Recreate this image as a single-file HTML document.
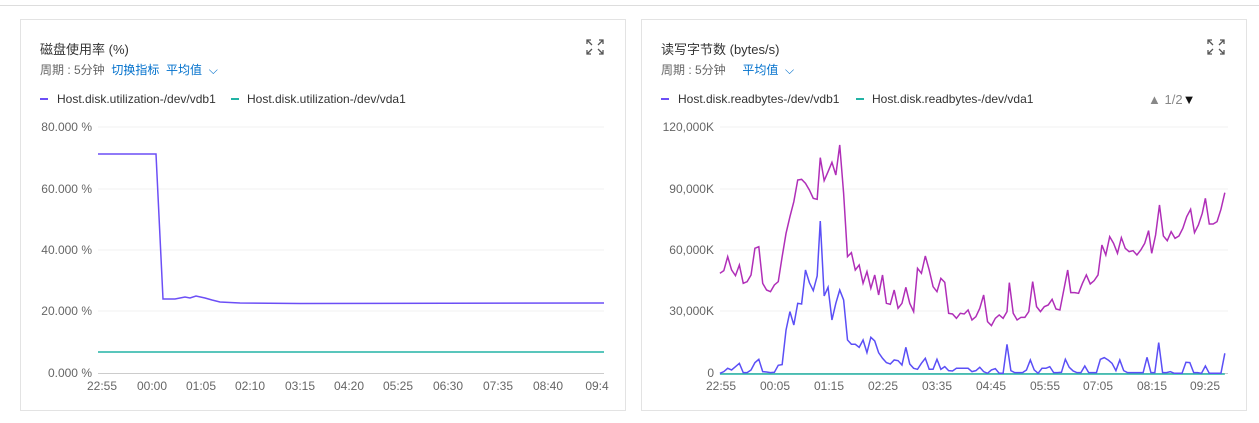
<!DOCTYPE html>
<html><head><meta charset="utf-8"><style>
body{margin:0;width:1259px;height:423px;background:#fff;position:relative;overflow:hidden;font-family:"Liberation Sans","Noto Sans CJK SC",sans-serif}
.card{position:absolute;top:19px;height:390px;border:1px solid #e3e3e3;background:#fff}
.t{position:absolute;font-size:13px;color:#333}
.s{position:absolute;font-size:12px;color:#666}
.b{color:#0070cc}
</style></head><body>
<div style="position:absolute;left:0;top:5px;width:1259px;height:1px;background:#ddd"></div>
<div class="card" style="left:20px;width:604px"></div>
<div class="card" style="left:641px;width:604px"></div>
<div class="t" style="left:40px;top:39px">磁盘使用率 (%)</div>
<div class="s" style="left:40px;top:61px">周期 : 5分钟 &nbsp;<span class="b">切换指标 &nbsp;平均值 &nbsp;⌵</span></div>
<div class="t" style="left:661px;top:39px">读写字节数 (bytes/s)</div>
<div class="s" style="left:661px;top:61px">周期 : 5分钟 &nbsp; &nbsp; <span class="b">平均值 &nbsp;⌵</span></div>
<svg width="1259" height="423" style="position:absolute;left:0;top:0" font-family="Liberation Sans, sans-serif" font-size="12">
<g stroke="#555" stroke-width="1.3" fill="none">
<path d="M587 44v-4h4M599 40h4v4M603 50v4h-4M591 54h-4v-4M587 40l5 5M603 40l-5 5M603 54l-5-5M587 54l5-5"/>
<path d="M1208 44v-4h4M1220 40h4v4M1224 50v4h-4M1212 54h-4v-4M1208 40l5 5M1224 40l-5 5M1224 54l-5-5M1208 54l5-5"/>
</g>
<g font-size="12" fill="#333">
<rect x="40" y="98" width="8" height="2" fill="#6c4ff6"/><text x="57" y="103">Host.disk.utilization-/dev/vdb1</text>
<rect x="231" y="98" width="8" height="2" fill="#22b3a5"/><text x="247" y="103">Host.disk.utilization-/dev/vda1</text>
<rect x="661" y="98" width="8" height="2" fill="#6c4ff6"/><text x="678" y="103">Host.disk.readbytes-/dev/vdb1</text>
<rect x="856" y="98" width="8" height="2" fill="#22b3a5"/><text x="872" y="103">Host.disk.readbytes-/dev/vda1</text>
<text x="1148" y="104" fill="#888" font-size="13">▲ 1/2<tspan fill="#111">▼</tspan></text>
</g>
<g stroke="#f0f0f0" stroke-width="1">
<path d="M98 127H604M98 189H604M98 250H604M98 311H604M720 127H1228M720 189H1228M720 250H1228M720 311H1228"/>
</g>
<g stroke="#ccc"><path d="M98 373.5H604M720 373.5H1228"/></g>
<g fill="#666" text-anchor="end">
<text x="92" y="131">80.000 %</text><text x="92" y="193">60.000 %</text><text x="92" y="254">40.000 %</text><text x="92" y="315">20.000 %</text><text x="92" y="377">0.000 %</text>
<text x="714" y="131">120,000K</text><text x="714" y="193">90,000K</text><text x="714" y="254">60,000K</text><text x="714" y="315">30,000K</text><text x="714" y="377">0</text>
</g>
<g fill="#666" text-anchor="middle">
<text x="102" y="390">22:55</text><text x="152" y="390">00:00</text><text x="201" y="390">01:05</text><text x="250" y="390">02:10</text><text x="300" y="390">03:15</text><text x="349" y="390">04:20</text><text x="398" y="390">05:25</text><text x="448" y="390">06:30</text><text x="498" y="390">07:35</text><text x="548" y="390">08:40</text><text x="597" y="390">09:4</text>
<text x="721" y="390">22:55</text><text x="775" y="390">00:05</text><text x="829" y="390">01:15</text><text x="883" y="390">02:25</text><text x="937" y="390">03:35</text><text x="991" y="390">04:45</text><text x="1045" y="390">05:55</text><text x="1098" y="390">07:05</text><text x="1152" y="390">08:15</text><text x="1205" y="390">09:25</text>
</g>
<polyline fill="none" stroke="#6c4ff6" stroke-width="1.5" points="98,154 156,154 163,299 175,299 185,297 190,298 196,296 205,298 212,300 220,302 240,303 300,303.5 604,303"/>
<polyline fill="none" stroke="#22b3a5" stroke-width="1.5" points="98,352 604,352"/>
<g transform="translate(639,110) scale(0.389,0.3333)" fill="none" stroke-width="1.5">
<polyline vector-effect="non-scaling-stroke" stroke="#22b3a5" points="208,792 1506,792"/>
<polyline vector-effect="non-scaling-stroke" stroke="#b02fb8" points="208,490 218,482 228,440 238,480 248,497 258,465 268,520 278,515 288,495 298,415 308,410 318,520 328,540 338,545 348,525 358,515 368,440 378,370 388,320 398,275 408,210 418,208 428,220 438,240 448,265 458,268 466,143 476,212 486,185 496,157 506,195 516,105 526,250 536,440 546,428 556,480 566,465 576,520 586,485 596,535 606,495 616,555 626,495 636,580 646,583 656,540 666,595 676,580 686,532 696,580 706,605 716,475 726,490 736,438 746,480 756,530 766,545 776,505 786,517 796,610 806,612 816,625 826,610 836,612 846,600 856,630 866,620 876,595 886,555 896,635 906,647 916,625 926,615 936,625 946,605 952,518 962,610 972,630 982,622 992,622 1002,605 1012,515 1022,590 1032,605 1042,590 1052,585 1062,568 1072,597 1082,600 1092,540 1102,480 1110,548 1120,548 1130,550 1140,520 1150,495 1160,522 1170,512 1180,495 1190,405 1200,435 1210,380 1220,400 1230,430 1240,383 1250,415 1260,425 1270,422 1280,435 1290,420 1300,400 1310,362 1318,430 1328,375 1338,285 1348,378 1358,392 1368,365 1378,385 1388,378 1398,355 1408,320 1418,298 1428,368 1438,345 1448,310 1456,265 1466,342 1476,342 1486,335 1496,298 1506,248"/>
<polyline vector-effect="non-scaling-stroke" stroke="#5b4ff6" points="208,790 218,785 228,775 238,780 248,770 258,760 268,788 278,788 288,780 298,758 308,748 318,785 328,786 338,788 348,787 358,766 368,764 378,660 388,605 398,645 408,580 418,582 428,480 438,518 448,542 458,498 466,333 476,558 486,532 496,630 506,580 516,540 526,570 536,690 546,703 556,703 566,712 576,690 586,728 596,682 606,693 616,728 626,745 636,758 646,762 656,750 666,752 676,765 686,712 696,762 706,775 716,778 726,760 736,745 746,778 756,778 766,748 776,778 786,770 796,782 806,783 816,775 826,775 836,775 846,775 856,785 866,782 876,772 886,785 896,790 906,780 916,776 926,790 936,790 946,703 956,782 966,788 976,788 986,788 996,780 1006,750 1016,780 1026,790 1036,775 1046,775 1056,770 1066,788 1076,788 1086,787 1096,748 1106,772 1116,783 1126,788 1136,788 1146,768 1156,788 1166,788 1176,788 1186,748 1196,743 1206,750 1216,760 1226,782 1236,750 1246,782 1256,788 1266,788 1276,788 1286,788 1296,788 1306,742 1316,788 1326,788 1336,698 1346,788 1356,788 1366,785 1376,790 1386,790 1396,790 1406,757 1416,758 1426,788 1436,788 1446,790 1456,768 1466,790 1476,790 1486,790 1496,790 1506,730"/>
</g>
</svg>
</body></html>
